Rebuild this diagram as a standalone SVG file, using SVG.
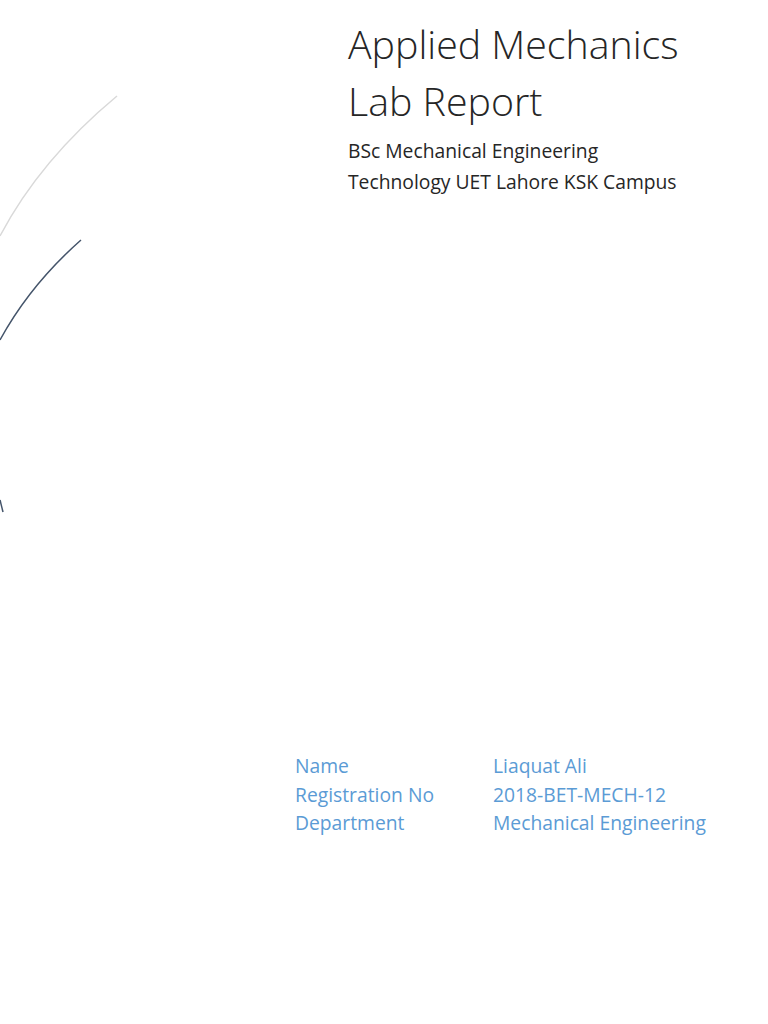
<svg xmlns="http://www.w3.org/2000/svg" width="768" height="1024" viewBox="0 0 768 1024">
<style>
.t{font-family:"Open Sans","Liberation Sans",sans-serif;fill:#262626}
.b{font-family:"Open Sans","Liberation Sans",sans-serif;font-size:19.3px;fill:#5B9BD5}
</style>
<rect width="768" height="1024" fill="#fff"/>
<path d="M117,96 Q40,160 0,236" fill="none" stroke="#d9d9d9" stroke-width="1.5"/>
<path d="M81,240 Q30,285 0,340" fill="none" stroke="#44546a" stroke-width="1.5"/>
<path d="M0,500 L3,512" fill="none" stroke="#44546a" stroke-width="1.5"/>
<g id="title">
<text class="t" x="348" y="59" font-size="39.3" font-weight="300">Applied Mechanics</text>
<text class="t" x="348" y="116" font-size="39.3" font-weight="300">Lab Report</text>
<text class="t" x="348" y="158" font-size="19.3">BSc Mechanical Engineering</text>
<text class="t" x="348" y="189" font-size="19.3">Technology UET Lahore KSK Campus</text>
</g>
<g id="info">
<text class="b" x="295" y="773">Name</text>
<text class="b" x="295" y="802">Registration No</text>
<text class="b" x="295" y="830">Department</text>
<text class="b" x="493" y="773">Liaquat Ali</text>
<text class="b" x="493" y="802">2018-BET-MECH-12</text>
<text class="b" x="493" y="830">Mechanical Engineering</text>
</g>
</svg>
